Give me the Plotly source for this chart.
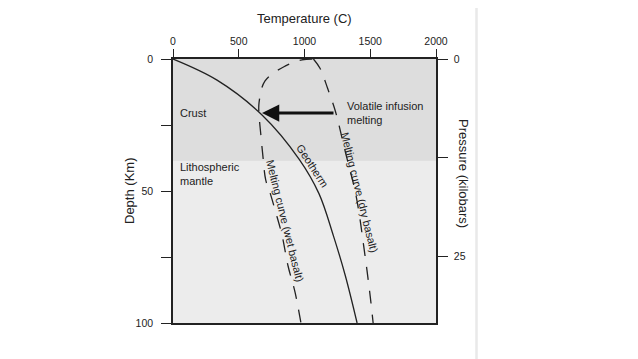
import plotly.graph_objects as go

# ---- data ----
temp_ticks = [0, 500, 1000, 1500, 2000]
depth_ticks = [0, 25, 50, 75, 100]
depth_ticklabels = ["0", "", "50", "", "100"]
pressure_ticks = [0, 12.5, 25]
pressure_ticklabels = ["0", "", "25"]
km_per_kbar = 2.985
crust_depth = 38.5

geotherm_T = [0, 335, 677, 960, 1110, 1220, 1310, 1400]
geotherm_d = [0, 8, 21.2, 38, 51, 67, 82, 100]

wet_T = [1060, 981, 852, 700, 654, 656, 669, 684, 705, 740, 778, 829, 875, 928, 973]
wet_d = [0, 0.3, 2.7, 8.3, 16.7, 22, 29.2, 37, 45.8, 51, 57.5, 66.7, 78.4, 88.3, 100]

dry_T = [1068, 1118, 1175, 1232, 1262, 1300, 1340, 1385, 1420, 1448, 1475, 1500, 1522]
dry_d = [0, 3.5, 11, 19.3, 25, 33, 41, 50, 60, 70, 80, 90, 100]

arrow_from_T, arrow_to_T, arrow_d = 1232, 677, 20.5

FONT = "Liberation Sans, Arial, sans-serif"
INK = "#222222"

fig = go.Figure()

fig.add_trace(go.Scatter(x=geotherm_T, y=geotherm_d, mode="lines",
                         line=dict(color=INK, width=1.3, shape="spline", smoothing=1.0),
                         showlegend=False, hoverinfo="skip"))
fig.add_trace(go.Scatter(x=wet_T, y=wet_d, mode="lines",
                         line=dict(color=INK, width=1.3, dash="13px,11px", shape="spline", smoothing=1.0),
                         showlegend=False, hoverinfo="skip"))
fig.add_trace(go.Scatter(x=dry_T, y=dry_d, mode="lines",
                         line=dict(color=INK, width=1.3, dash="13px,11px", shape="spline", smoothing=1.0),
                         showlegend=False, hoverinfo="skip"))
# invisible trace to activate the right (pressure) axis
fig.add_trace(go.Scatter(x=[None], y=[None], yaxis="y2", showlegend=False, hoverinfo="skip"))

# crust shading
fig.add_shape(type="rect", xref="x", yref="y", x0=0, x1=2000, y0=0, y1=crust_depth,
              fillcolor="#dddddd", line=dict(width=0), layer="below")
# page edge line on the right
fig.add_shape(type="line", xref="paper", yref="paper", x0=1.154, x1=1.154, y0=-0.2, y1=1.25,
              line=dict(color="#e9e9e9", width=2.5))

axis_common = dict(showgrid=False, zeroline=False, showline=True, linecolor=INK, linewidth=1.5,
                   ticks="outside", tickcolor=INK, tickwidth=1.3,
                   tickfont=dict(family=FONT, size=10.5, color=INK))

# the page body adds an 8px margin, so the figure is 8px smaller than the window
fig.update_layout(
    width=630, height=351,
    margin=dict(l=165, r=202, t=51, b=36),
    paper_bgcolor="white", plot_bgcolor="#ececec",
    xaxis=dict(range=[0, 2000], side="top", tickvals=temp_ticks, ticklen=8, mirror=True,
               ticklabelstandoff=0, **axis_common),
    yaxis=dict(range=[100, 0], tickvals=depth_ticks, ticktext=depth_ticklabels, ticklen=10,
               ticklabelstandoff=6, **axis_common),
    yaxis2=dict(range=[100 / km_per_kbar, 0], overlaying="y", side="right",
                tickvals=pressure_ticks, ticktext=pressure_ticklabels, ticklen=10,
                ticklabelstandoff=4, **axis_common),
)

ann_font = dict(family=FONT, size=11, color=INK)
annotations = [
    dict(text="Temperature (C)", xref="paper", yref="paper", x=0.5, y=1.0, yshift=41,
         xanchor="center", yanchor="middle",
         showarrow=False, font=dict(family=FONT, size=13, color=INK)),
    dict(text="Depth (Km)", xref="paper", yref="paper", x=0.0, y=0.5, xshift=-44,
         xanchor="center", yanchor="middle",
         textangle=-90, showarrow=False, font=dict(family=FONT, size=13, color=INK)),
    dict(text="Pressure (kilobars)", xref="paper", yref="paper", x=1.0, y=0.568, xshift=28,
         xanchor="center", yanchor="middle",
         textangle=90, showarrow=False, font=dict(family=FONT, size=13, color=INK)),
    dict(text="Crust", x=38, y=20.5, xanchor="left", showarrow=False, font=ann_font),
    dict(text="Lithospheric<br>mantle", x=38, y=43.6, xanchor="left", align="left",
         showarrow=False, font=ann_font),
    dict(text="Volatile infusion<br>melting", x=1308, y=20.3, xanchor="left", align="left",
         showarrow=False, font=ann_font),
    dict(text="Geotherm", x=1062, y=40.5, textangle=57, showarrow=False, font=ann_font),
    dict(text="Melting curve (wet basalt)", x=855, y=61.2, textangle=76, showarrow=False, font=ann_font),
    dict(text="Melting curve (dry basalt)", x=1422, y=50.6, textangle=76, showarrow=False, font=ann_font),
    dict(text="", x=arrow_to_T, y=arrow_d, ax=arrow_from_T, ay=arrow_d, axref="x", ayref="y",
         showarrow=True, arrowhead=2, arrowsize=1.15, arrowwidth=3, arrowcolor="#111111",
         standoff=0, startstandoff=0),
]
fig.update_layout(annotations=annotations)

fig.write_html("out.html")
